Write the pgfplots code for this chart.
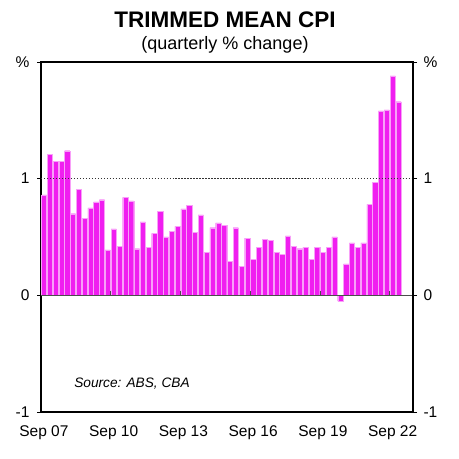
\documentclass[border=0pt]{standalone}
\usepackage{fontspec}
\setmainfont{Liberation Sans}
\usepackage{pgfplots}
\usepackage{pgfplotstable}
\pgfplotsset{compat=1.18}
\definecolor{barmag}{RGB}{240,30,240}
\definecolor{baredge}{RGB}{248,160,248}

% quarterly trimmed mean CPI, Sep 07 (0) ... Dec 22 (61)
\pgfplotstableread{
q val
0 0.86
1 1.21
2 1.15
3 1.15
4 1.24
5 0.70
6 0.91
7 0.66
8 0.75
9 0.80
10 0.82
11 0.39
12 0.57
13 0.42
14 0.84
15 0.81
16 0.40
17 0.63
18 0.41
19 0.53
20 0.72
21 0.50
22 0.55
23 0.59
24 0.74
25 0.77
26 0.54
27 0.69
28 0.37
29 0.58
30 0.62
31 0.60
32 0.29
33 0.58
34 0.25
35 0.49
36 0.31
37 0.41
38 0.48
39 0.47
40 0.37
41 0.35
42 0.51
43 0.42
44 0.40
45 0.41
46 0.31
47 0.41
48 0.37
49 0.41
50 0.50
51 -0.05
52 0.27
53 0.45
54 0.41
55 0.45
56 0.78
57 0.97
58 1.58
59 1.59
60 1.88
61 1.66
}\cpidata

\begin{document}
\begin{tikzpicture}
\useasboundingbox (0,0) rectangle (459bp,459bp);

\node[anchor=base, font=\fontsize{22.5bp}{26bp}\selectfont\bfseries] at (225bp,431bp) {TRIMMED MEAN CPI};
\node[anchor=base, font=\fontsize{18bp}{21bp}\selectfont] at (225bp,409bp) {(quarterly \% change)};

\begin{axis}[
    at={(41bp,47bp)}, anchor=south west,
    scale only axis,
    width=372bp, height=350bp,
    xmin=-0.5, xmax=63.5,
    ymin=-1, ymax=2,
    ytick={-1,0,1,2},
    yticklabels={-1,0,1,\%},
    xtick={0,12,24,36,48,60},
    xticklabels={Sep 07,Sep 10,Sep 13,Sep 16,Sep 19,Sep 22},
    x tick style={draw=none},
    y tick style={black, line width=0.8pt},
    major tick length=4bp,
    tick align=outside,
    ytick pos=left,
    ticklabel style={font=\fontsize{15.5bp}{18bp}\selectfont},
    yticklabel style={xshift=-4bp},
    xticklabel style={yshift=-6bp},
    axis line style={black, line width=1.6pt},
    ybar, bar width=0.9,
    clip=false,
]
\addplot[fill=barmag, draw=baredge, line width=0.3pt] table[x=q, y=val] {\cpidata};

\draw[black!80, line width=1pt, dash pattern=on 1.5pt off 1.5pt] (axis cs:-0.5,1) -- (axis cs:63.5,1);
\draw[black!70, line width=1.2pt] (axis cs:-0.5,0) -- (axis cs:63.5,0);
\pgfplotsinvokeforeach{11.5,23.5,35.5,47.5,59.5}{
  \draw[black!70, line width=0.8pt] (axis cs:#1,0) -- (axis cs:#1,0.035);
}
\node[anchor=west, font=\fontsize{13.7bp}{16bp}\selectfont\itshape] at (rel axis cs:0.08,0.082) {Source: ABS, CBA};
\end{axis}

\begin{axis}[
    at={(41bp,47bp)}, anchor=south west,
    scale only axis,
    width=372bp, height=350bp,
    xmin=-0.5, xmax=63.5,
    ymin=-1, ymax=2,
    hide x axis,
    axis y line*=right,
    ytick={-1,0,1,2},
    yticklabels={-1,0,1,\%},
    y tick style={black, line width=0.8pt},
    major tick length=4bp,
    tick align=outside,
    ticklabel style={font=\fontsize{15.5bp}{18bp}\selectfont},
    yticklabel style={xshift=3bp},
    axis line style={black, line width=1.6pt, -},
]
\end{axis}
\end{tikzpicture}
\end{document}
